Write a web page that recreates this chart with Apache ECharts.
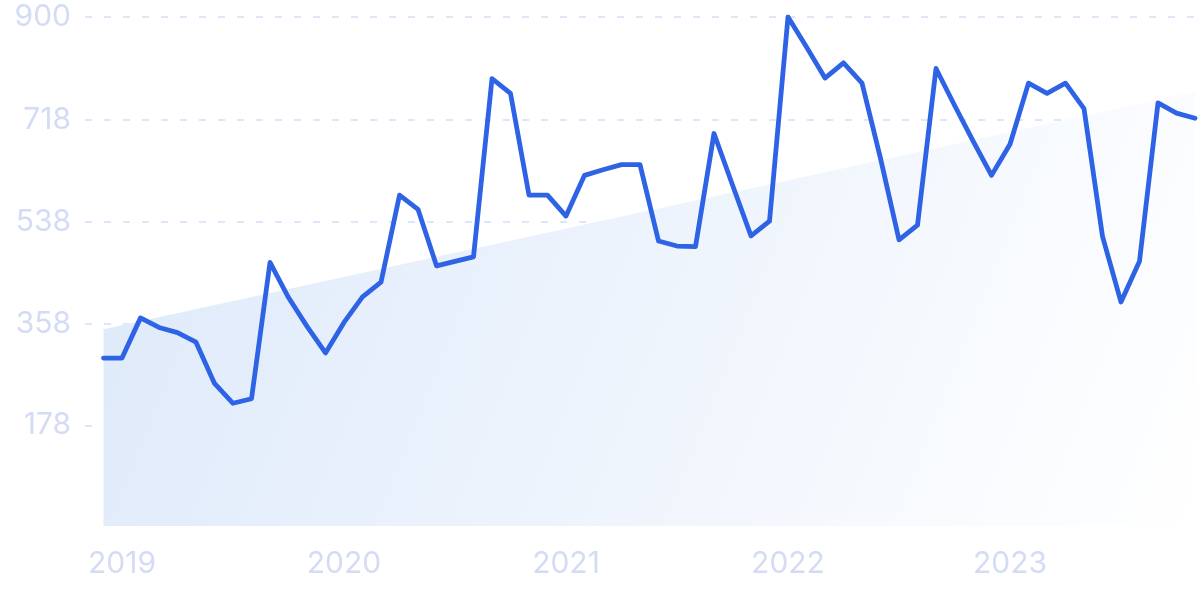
<!DOCTYPE html>
<html>
<head>
<meta charset="utf-8">
<script src="https://cdn.jsdelivr.net/npm/echarts@6/dist/echarts.min.js"></script>
<style>
  html, body { margin: 0; padding: 0; background: #fff; }
  #main { width: 1200px; height: 599px; }
</style>
</head>
<body>
<div id="main"></div>
<script>
// monthly values, Dec 2018 .. Nov 2023
var values = [
  297, 297, 368, 351, 342, 325, 252, 217, 225, 466, 404, 353,
  306, 360, 405, 431, 585, 560, 460, 468, 476, 791, 765, 585,
  585, 548, 620, 630, 639, 639, 504, 495, 494, 694, 603, 513,
  539, 900, 847, 792, 819, 783, 650, 506, 532, 809, 744, 681,
  620, 675, 783, 765, 783, 738, 512, 396, 468, 748, 730, 721
]
// trend band: value at the first and at the last month
var trendEnds = [348, 768]
var yTicks = [178, 358, 538, 718, 900]
var firstMonth = [2018, 11]   // axis starts one month before the data

// month categories, one leading empty slot so the axis has some room on the left
var months = []
for (var i = 0; i <= values.length; i++) {
  var m = firstMonth[1] - 1 + i
  var y = firstMonth[0] + Math.floor(m / 12)
  var mm = (m % 12) + 1
  months.push(y + '-' + (mm < 10 ? '0' + mm : mm))
}
var lineData = [null].concat(values)
var trendData = [[1, trendEnds[0]], [values.length, trendEnds[1]]]

var labelFont = {
  color: '#d3dcf4',
  fontSize: 30,
  fontFamily: 'Inter'
}

var myChart = echarts.init(document.getElementById('main'), null, { renderer: 'canvas' })
var option = {
  animation: false,
  grid: { left: 85, right: 5, top: 17, bottom: 73 },
  xAxis: {
    type: 'category',
    boundaryGap: false,
    data: months,
    axisLine: { show: false },
    axisTick: { show: false },
    splitLine: { show: false },
    axisLabel: Object.assign({
      margin: 23,
      interval: function (idx, val) { return val.slice(5) === '01' },
      formatter: function (val) { return val.slice(0, 4) }
    }, labelFont)
  },
  yAxis: {
    type: 'value',
    min: 0,
    max: 900,
    axisLine: { show: false },
    axisTick: { show: false, customValues: yTicks },
    axisLabel: Object.assign({ margin: 14, customValues: yTicks }, labelFont),
    splitLine: {
      show: true,
      lineStyle: { color: '#cfe1fb', width: 1.5, type: [7, 12] }
    }
  },
  series: [
    {
      name: 'trend',
      type: 'line',
      data: trendData,
      symbol: 'none',
      silent: true,
      lineStyle: { width: 0, opacity: 0 },
      areaStyle: {
        opacity: 1,
        color: new echarts.graphic.LinearGradient(0, 0, 1, 1, [
          { offset: 0, color: '#dde9fa' },
          { offset: 1, color: '#ffffff' }
        ])
      },
      z: 1
    },
    {
      name: 'value',
      type: 'line',
      data: lineData,
      symbol: 'none',
      lineStyle: { color: '#2e63e6', width: 4.8, join: 'round', cap: 'round' },
      z: 3
    }
  ]
}
myChart.setOption(option)
</script>
</body>
</html>
